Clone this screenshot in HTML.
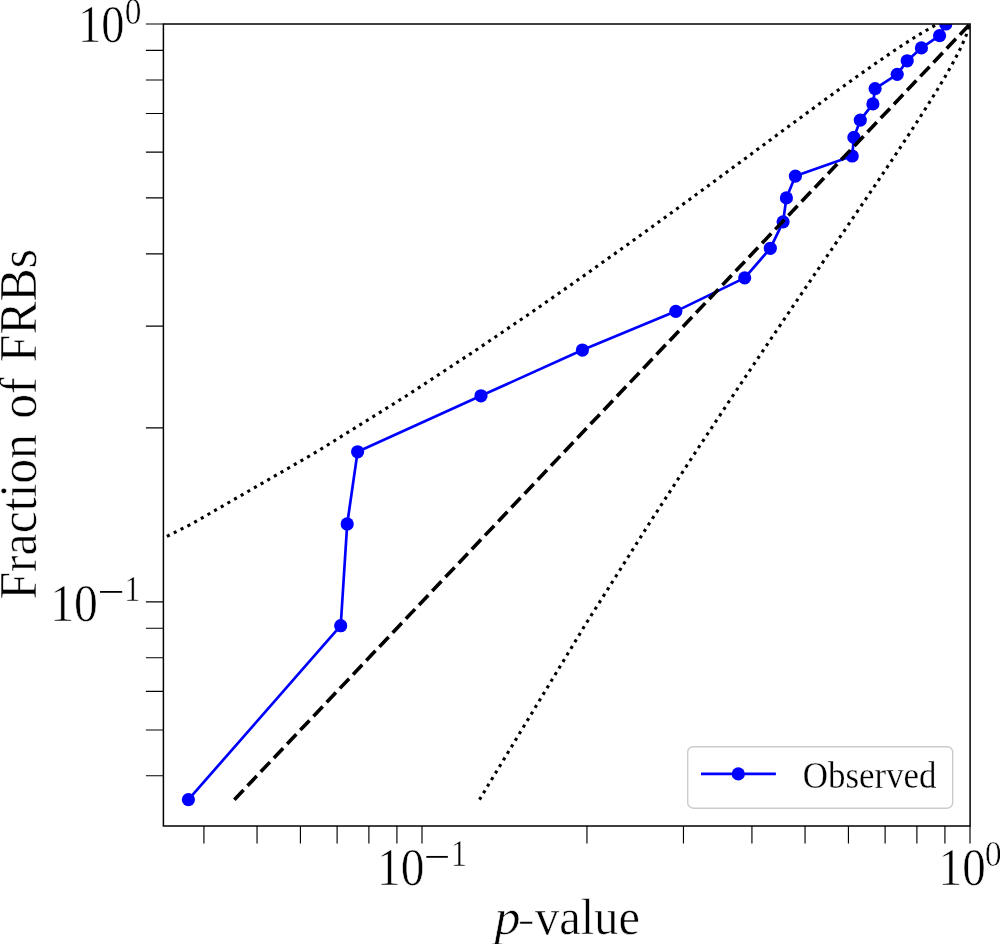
<!DOCTYPE html>
<html lang="en"><head><meta charset="utf-8"><title>Fraction of FRBs vs p-value</title>
<style>html,body{margin:0;padding:0;background:#fff}body{width:1000px;height:944px;overflow:hidden}svg{display:block}</style></head>
<body>
<svg width="1000" height="944" viewBox="0 0 1000 944" font-family="'Liberation Serif', 'DejaVu Serif', serif" fill="#000">
<style>text{stroke:#fff;stroke-width:0.55px;stroke-linejoin:round}</style>
<defs><clipPath id="ax"><rect x="163.4" y="24.0" width="806.7" height="802.0"/></clipPath></defs>
<g clip-path="url(#ax)" fill="none" stroke-linejoin="round">
<polyline points="188.40,799.65 340.70,625.72 347.20,523.97 357.60,451.78 481.00,395.79 582.40,350.04 675.80,311.35 744.70,277.85 770.30,248.29 783.10,221.85 786.40,197.94 795.40,176.10 852.20,156.02 853.90,137.42 860.30,120.11 872.90,103.91 875.10,88.70 897.20,74.36 907.20,60.79 921.40,47.92 939.60,35.67 945.80,24.00" stroke="#0000ff" stroke-width="2.7"/>
<g fill="#0000ff" stroke="none"><circle cx="188.40" cy="799.65" r="6.6"/><circle cx="340.70" cy="625.72" r="6.6"/><circle cx="347.20" cy="523.97" r="6.6"/><circle cx="357.60" cy="451.78" r="6.6"/><circle cx="481.00" cy="395.79" r="6.6"/><circle cx="582.40" cy="350.04" r="6.6"/><circle cx="675.80" cy="311.35" r="6.6"/><circle cx="744.70" cy="277.85" r="6.6"/><circle cx="770.30" cy="248.29" r="6.6"/><circle cx="783.10" cy="221.85" r="6.6"/><circle cx="786.40" cy="197.94" r="6.6"/><circle cx="795.40" cy="176.10" r="6.6"/><circle cx="852.20" cy="156.02" r="6.6"/><circle cx="853.90" cy="137.42" r="6.6"/><circle cx="860.30" cy="120.11" r="6.6"/><circle cx="872.90" cy="103.91" r="6.6"/><circle cx="875.10" cy="88.70" r="6.6"/><circle cx="897.20" cy="74.36" r="6.6"/><circle cx="907.20" cy="60.79" r="6.6"/><circle cx="921.40" cy="47.92" r="6.6"/><circle cx="939.60" cy="35.67" r="6.6"/><circle cx="945.80" cy="24.00" r="6.6"/></g>
<polyline points="234.35,799.65 970.00,24.00" stroke="#000" stroke-width="3.6" stroke-dasharray="13.38 5.79"/>
<polyline points="-476.75,799.65 -10.45,625.72 191.56,523.97 316.74,451.78 406.49,395.79 476.14,350.04 532.95,311.35 580.89,277.85 622.36,248.29 658.93,221.85 691.67,197.94 721.36,176.10 748.55,156.02 773.70,137.42 797.16,120.11 819.20,103.91 840.10,88.70 860.07,74.36 879.36,60.79 898.26,47.92 917.23,35.67 937.42,24.00" stroke="#000" stroke-width="3.1" stroke-dasharray="3.1 4.57" stroke-dashoffset="1.7"/>
<polyline points="479.46,799.65 584.72,625.72 648.92,523.97 695.76,451.78 732.79,395.79 763.43,350.04 789.55,311.35 812.28,277.85 832.38,248.29 850.34,221.85 866.54,197.94 881.25,176.10 894.67,156.02 906.95,137.42 918.21,120.11 928.52,103.91 937.94,88.70 946.48,74.36 954.11,60.79 960.72,47.92 966.07,35.67 969.45,24.00" stroke="#000" stroke-width="3.1" stroke-dasharray="3.1 4.57"/>
</g>
<path d="M203.93,826.00v17.5M257.04,826.00v17.5M300.43,826.00v17.5M337.11,826.00v17.5M368.89,826.00v17.5M396.92,826.00v17.5M422.00,826.00v17.5M586.96,826.00v17.5M683.46,826.00v17.5M751.93,826.00v17.5M805.04,826.00v17.5M848.43,826.00v17.5M885.11,826.00v17.5M916.89,826.00v17.5M944.92,826.00v17.5M970.00,826.00v17.5M163.40,775.74h-17.5M163.40,729.98h-17.5M163.40,691.30h-17.5M163.40,657.79h-17.5M163.40,628.24h-17.5M163.40,601.80h-17.5M163.40,427.86h-17.5M163.40,326.12h-17.5M163.40,253.93h-17.5M163.40,197.94h-17.5M163.40,152.18h-17.5M163.40,113.50h-17.5M163.40,79.99h-17.5M163.40,50.44h-17.5M163.40,24.00h-17.5" stroke="#000" stroke-width="1.15" fill="none"/>
<rect x="163.4" y="24.0" width="806.7" height="802.0" fill="none" stroke="#000" stroke-width="1.5" stroke-linejoin="miter"/>
<rect x="687.7" y="746.7" width="265" height="61.5" rx="5.5" ry="5.5" fill="#fff" fill-opacity="0.8" stroke="#cccccc" stroke-width="1.4"/>
<line x1="701" y1="773.9" x2="775.9" y2="773.9" stroke="#0000ff" stroke-width="2.7"/>
<circle cx="738.3" cy="773.9" r="6.6" fill="#0000ff"/>
<text id="y0_base" transform="translate(78.12,42.45) scale(0.9386,1.0616)" font-size="49.50">10</text>
<text id="y0_exp" transform="translate(124.83,23.82) scale(0.9649,1.0672)" font-size="34.60">0</text>
<text id="y1_base" transform="translate(50.23,620.55) scale(0.9630,1.0586)" font-size="49.50">10</text>
<text id="y1_minus" transform="translate(97.40,604.30) scale(1.3770,1.0510)" font-size="34.60" style="stroke:none">−</text>
<text id="y1_exp" transform="translate(124.08,601.45) scale(0.9582,1.0510)" font-size="34.60">1</text>
<text id="x1_base" transform="translate(377.10,884.93) scale(0.9571,1.0825)" font-size="49.50">10</text>
<text id="x1_minus" transform="translate(423.98,868.55) scale(1.3395,1.0730)" font-size="34.60" style="stroke:none">−</text>
<text id="x1_exp" transform="translate(450.68,865.95) scale(0.9463,1.0730)" font-size="34.60">1</text>
<text id="x0_base" transform="translate(938.62,884.62) scale(0.9501,1.0675)" font-size="49.50">10</text>
<text id="x0_exp" transform="translate(984.85,866.00) scale(0.9827,1.0542)" font-size="34.60">0</text>
<text id="xlabel_p" transform="translate(494.53,934.47) scale(1.0400,1.0339)" font-size="50.00" font-style="italic">p</text>
<text id="xlabel_hy" transform="translate(517.95,931.25) scale(0.9866,0.6531)" font-size="50.00">-</text>
<text id="xlabel_rest" transform="translate(535.08,934.47) scale(0.9686,1.0339)" font-size="50.00">value</text>
<text id="legend" transform="translate(802.70,787.55) scale(0.9318,1.0389)" font-size="37.50" style="stroke-width:0.3px">Observed</text>
<text id="ylabel" transform="translate(36.17,599.52) rotate(-90) scale(0.9928,1.0399)" font-size="50.00" word-spacing="2.9">Fraction of FRBs</text>
</svg>
</body></html>
